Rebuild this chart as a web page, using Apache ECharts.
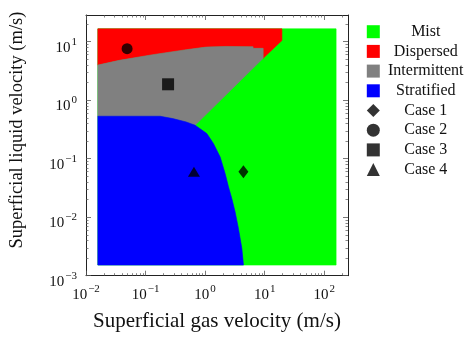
<!DOCTYPE html>
<html>
<head>
<meta charset="utf-8">
<script src="https://cdn.jsdelivr.net/npm/echarts@6/dist/echarts.min.js"></script>
<style>html,body{margin:0;padding:0;background:#fff}#c{width:474px;height:347px}</style>
</head>
<body>
<div id="c"></div>
<script>
// ---- tick values ----
const xMajor = [0.01, 0.1, 1, 10, 100];
const yMajor = [0.001, 0.01, 0.1, 1, 10];
const xMinor = [0.02,0.03,0.04,0.05,0.06,0.07,0.08,0.09,0.2,0.3,0.4,0.5,0.6,0.7,0.8,0.9,2,3,4,5,6,7,8,9,20,30,40,50,60,70,80,90,200];
const yMinor = [0.002,0.003,0.004,0.005,0.006,0.007,0.008,0.009,0.02,0.03,0.04,0.05,0.06,0.07,0.08,0.09,0.2,0.3,0.4,0.5,0.6,0.7,0.8,0.9,2,3,4,5,6,7,8,9,20];
const xAxisMin = 0.01, xAxisMax = 251.19;
const yAxisMin = 0.001, yAxisMax = 28.6;

// ---- map extent (data) ----
const xRange = [0.0158, 158.5];
const yRange = [0.00152, 16.6];

// ---- regime boundaries (x = gas velocity, y = liquid velocity) ----
// Dispersed / Intermittent boundary, left to right
const dispersedIntermittent = [[0.0158,3.98],[0.0363,4.8],[0.132,6.0],[0.48,7.3],[1.04,8.09],[2.25,8.3],[6.4,8.2],[6.4,7.7],[9.44,7.7],[9.44,5.2]];
// Mist boundary (upper part), top to bottom
const mistUpper = [[19.5,16.6],[19.5,10.5],[9.44,5.2],[0.68,0.373]];
// Intermittent / Stratified boundary, left to right
const intermittentStratified = [[0.0158,0.532],[0.175,0.532],[0.286,0.485],[0.48,0.425],[0.68,0.373]];
// Stratified / Mist boundary, top to bottom
const stratifiedMist = [[0.68,0.373],[1.07,0.269],[1.38,0.182],[1.79,0.107],[2.17,0.0558],[2.47,0.033],[2.81,0.0209],[3.19,0.01236],[3.63,0.00644],[4.14,0.00294],[4.41,0.00152]];

// ---- cases ----
const case1 = [[4.4, 0.06]];
const case2 = [[0.049, 7.6]];
const case3 = [[0.239, 1.87]];
const case4 = [[0.65, 0.06]];

// ---- polygons built from boundaries ----
const mistPoly = [[xRange[0],yRange[0]],[xRange[1],yRange[0]],[xRange[1],yRange[1]],[xRange[0],yRange[1]]];
const dispersedPoly = [[xRange[0],yRange[1]]].concat(mistUpper.slice(0,3)).concat(dispersedIntermittent.slice(0,-1).reverse());
const intermittentPoly = dispersedIntermittent.concat([mistUpper[3]]).concat(intermittentStratified.slice(0,-1).reverse());
const stratifiedPoly = intermittentStratified.concat(stratifiedMist.slice(1)).concat([[xRange[0],yRange[0]]]);

const FONT = 'Liberation Serif';
const tickColor = '#555';
const lineColor = '#222';

function regionSeries(name, poly, color) {
  return {
    name: name, type: 'custom', data: poly, silent: true, animation: false,
    itemStyle: { color: color },
    renderItem: function (params, api) {
      if (params.dataIndex !== 0) return null;
      const pts = poly.map(p => api.coord(p));
      return { type: 'polygon', shape: { points: pts }, style: { fill: color, stroke: color, lineWidth: 0.6 } };
    }
  };
}

function expLabel(v) {
  const e = Math.round(Math.log10(v));
  return '{b|10}{s|' + (e < 0 ? '\u2212' + (-e) : String(e)) + '}';
}
const richTick = {
  b: { fontFamily: FONT, fontSize: 15, color: '#111', lineHeight: 9, verticalAlign: 'bottom' },
  s: { fontFamily: FONT, fontSize: 11, color: '#111', lineHeight: 19, verticalAlign: 'top', padding: [0,0,0,1] }
};

function axisSet(min, max, major, minor, labelPos, otherPos, labelOpt, nameOpt) {
  const base = { type: 'log', logBase: 10, min: min, max: max, splitLine: { show: false }, minorTick: { show: false } };
  const line = { show: true, onZero: false, lineStyle: { color: lineColor, width: 1 } };
  return [
    Object.assign({}, base, nameOpt || {}, { position: labelPos, axisLine: line,
      axisTick: { show: true, inside: true, length: 5, customValues: major, lineStyle: { color: tickColor, width: 0.8 } },
      axisLabel: Object.assign({ show: true, customValues: major, formatter: expLabel, rich: richTick }, labelOpt) }),
    Object.assign({}, base, { position: labelPos, axisLine: { show: false },
      axisTick: { show: true, inside: true, length: 2.5, customValues: minor, lineStyle: { color: tickColor, width: 0.7 } },
      axisLabel: { show: false } }),
    Object.assign({}, base, { position: otherPos, axisLine: line,
      axisTick: { show: true, inside: true, length: 5, customValues: major, lineStyle: { color: tickColor, width: 0.8 } },
      axisLabel: { show: false } }),
    Object.assign({}, base, { position: otherPos, axisLine: { show: false },
      axisTick: { show: true, inside: true, length: 2.5, customValues: minor, lineStyle: { color: tickColor, width: 0.7 } },
      axisLabel: { show: false } })
  ];
}

const chart = echarts.init(document.getElementById('c'), null, { renderer: 'canvas' });
const option = {
  backgroundColor: '#fff',
  animation: false,
  grid: { left: 86, top: 15, width: 262, height: 260.7, containLabel: false },
  xAxis: axisSet(xAxisMin, xAxisMax, xMajor, xMinor, 'bottom', 'top', { margin: 7.5 },
    { name: 'Superficial gas velocity (m/s)', nameLocation: 'middle', nameGap: 35,
      nameTextStyle: { fontFamily: FONT, fontSize: 21, color: '#111' } }),
  yAxis: axisSet(yAxisMin, yAxisMax, yMajor, yMinor, 'left', 'right', { margin: 9, padding: [8, 0, 0, 0] }),
  graphic: [{
    type: 'text', x: 17, y: 130, rotation: Math.PI / 2,
    style: { text: 'Superficial liquid velocity (m/s)', fontFamily: FONT, fontSize: 18.5, fill: '#111', align: 'center', verticalAlign: 'middle' }
  }],
  legend: {
    orient: 'vertical', left: 361.8, top: 18.7, padding: 5, itemWidth: 13, itemHeight: 13, itemGap: 3.7,
    selectedMode: false,
    data: [
      { name: 'Mist', icon: 'rect' },
      { name: 'Dispersed', icon: 'rect' },
      { name: 'Intermittent', icon: 'rect' },
      { name: 'Stratified', icon: 'rect' },
      { name: 'Case 1', icon: 'diamond' },
      { name: 'Case 2', icon: 'circle' },
      { name: 'Case 3', icon: 'rect' },
      { name: 'Case 4', icon: 'triangle' }
    ],
    formatter: n => '{c|' + n + '}',
    textStyle: { fontFamily: FONT, fontSize: 16, color: '#111',
      rich: { c: { fontFamily: FONT, fontSize: 16, color: '#111', width: 82, align: 'center', lineHeight: 13 } } }
  },
  series: [
    regionSeries('Mist', mistPoly, '#00ff00'),
    regionSeries('Dispersed', dispersedPoly, '#ff0000'),
    regionSeries('Intermittent', intermittentPoly, '#808080'),
    regionSeries('Stratified', stratifiedPoly, '#0000ff'),
    { name: 'Case 1', type: 'scatter', data: case1, symbol: 'diamond', symbolSize: [10, 13], itemStyle: { color: '#000' }, z: 5 },
    { name: 'Case 2', type: 'scatter', data: case2, symbol: 'circle', symbolSize: 11, itemStyle: { color: '#000' }, z: 5 },
    { name: 'Case 3', type: 'scatter', data: case3, symbol: 'rect', symbolSize: 12, itemStyle: { color: '#000' }, z: 5 },
    { name: 'Case 4', type: 'scatter', data: case4, symbol: 'triangle', symbolSize: [12, 10], itemStyle: { color: '#000' }, z: 5 }
  ]
};
chart.setOption(option);
</script>
</body>
</html>
